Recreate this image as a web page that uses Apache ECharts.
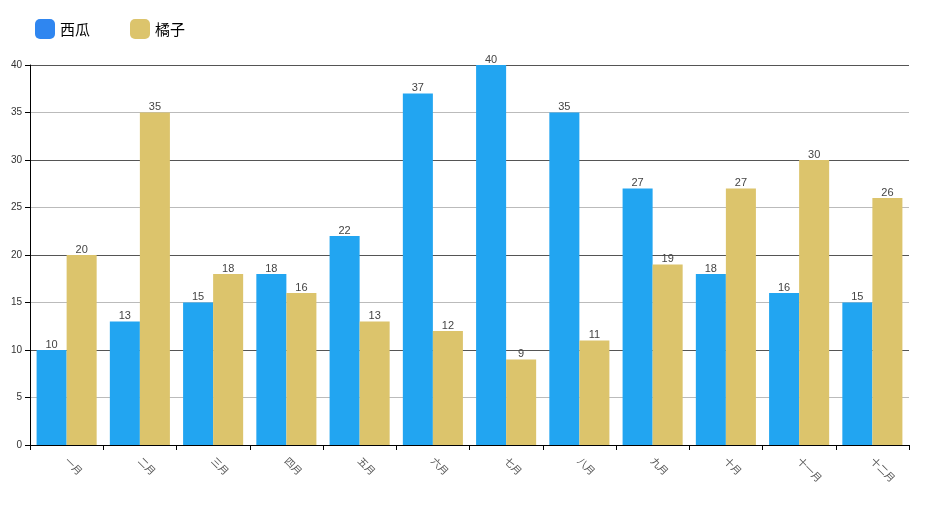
<!DOCTYPE html>
<html>
<head>
<meta charset="utf-8">
<script src="https://cdn.jsdelivr.net/npm/echarts@6/dist/echarts.min.js"></script>
<style>html,body{margin:0;padding:0;background:#fff}#main{width:944px;height:505px}</style>
</head>
<body>
<div id="main"></div>
<script>
var months = ['一月','二月','三月','四月','五月','六月','七月','八月','九月','十月','十一月','十二月'];
var watermelon = [10,13,15,18,22,37,40,35,27,18,16,15];
var orange = [20,35,18,16,13,12,9,11,19,27,30,26];

var chart = echarts.init(document.getElementById('main'));
chart.setOption({
  animation: false,
  legend: {
    left: 30, top: 14, itemWidth: 20, itemHeight: 20, itemGap: 40,
    textStyle: { fontSize: 15, color: '#000', fontFamily: 'Noto Sans CJK SC' },
    data: [
      { name: '西瓜', itemStyle: { color: '#2f86f0' } },
      { name: '橘子', itemStyle: { color: '#dcc46c' } }
    ]
  },
  grid: { left: 30, right: 35, top: 65, bottom: 60 },
  xAxis: {
    type: 'category', data: months,
    axisLine: { lineStyle: { color: '#000' } },
    axisTick: { show: true, alignWithLabel: false, lineStyle: { color: '#000' } },
    axisLabel: { rotate: -45, color: '#555', fontSize: 10, margin: 14, fontFamily: 'Noto Sans CJK SC' }
  },
  yAxis: {
    type: 'value', min: 0, max: 40, interval: 5,
    axisLine: { show: true, lineStyle: { color: '#000' } },
    axisTick: { show: true, lineStyle: { color: '#000' } },
    axisLabel: { color: '#333', fontSize: 10 },
    splitLine: { lineStyle: { color: ['#555', '#bbb'], width: 1.2 } }
  },
  series: [
    { name: '西瓜', type: 'bar', data: watermelon, barGap: 0, barCategoryGap: '18%',
      itemStyle: { color: '#22a5f1' },
      label: { show: true, position: 'top', distance: 0, color: '#444', fontSize: 11 } },
    { name: '橘子', type: 'bar', data: orange,
      itemStyle: { color: '#dcc46c' },
      label: { show: true, position: 'top', distance: 0, color: '#444', fontSize: 11 } }
  ]
});
</script>
</body>
</html>
